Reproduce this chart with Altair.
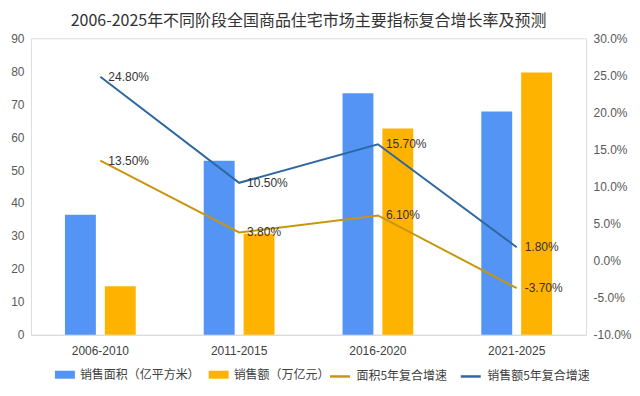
import altair as alt
import pandas as pd

cats = ["2006-2010", "2011-2015", "2016-2020", "2021-2025"]
area = [36.4, 52.8, 73.3, 67.8]
amount = [14.7, 30.7, 62.6, 79.6]
area_growth = [13.5, 3.8, 6.1, -3.7]
amount_growth = [24.8, 10.5, 15.7, 1.8]

bar_names = ["销售面积（亿平方米）", "销售额（万亿元）"]
line_names = ["面积5年复合增速", "销售额5年复合增速"]

bar_rows = []
for i, c in enumerate(cats):
    bar_rows.append({"cat": c, "series": bar_names[0], "value": area[i]})
    bar_rows.append({"cat": c, "series": bar_names[1], "value": amount[i]})
bars_df = pd.DataFrame(bar_rows)

line_rows = []
for i, c in enumerate(cats):
    line_rows.append({"cat": c, "series": line_names[0], "pct": area_growth[i]})
    line_rows.append({"cat": c, "series": line_names[1], "pct": amount_growth[i]})
lines_df = pd.DataFrame(line_rows)

CJK = "Noto Sans CJK SC"
NUM = "Liberation Sans"

x_enc = alt.X(
    "cat:N", sort=cats, title=None,
    scale=alt.Scale(paddingInner=0.49, paddingOuter=0.245),
    axis=alt.Axis(labelAngle=0, ticks=False, domainColor="#d9d9d9", labelColor="#404040",
                  labelFontSize=12, labelFont=NUM, labelPadding=11),
)

bars = alt.Chart(bars_df).mark_bar().encode(
    x=x_enc,
    xOffset=alt.XOffset("series:N", sort=bar_names, scale=alt.Scale(paddingInner=0.225)),
    y=alt.Y("value:Q", title=None,
            scale=alt.Scale(domain=[0, 90], nice=False),
            axis=alt.Axis(values=list(range(0, 91, 10)), grid=False, domain=False, ticks=False,
                          labelColor="#595959", labelFontSize=12, labelFont=NUM, labelPadding=7)),
    color=alt.Color("series:N", sort=bar_names,
                    scale=alt.Scale(domain=bar_names, range=["#5394F5", "#FFB301"]),
                    legend=alt.Legend(title=None, orient="none", direction="horizontal",
                                      legendX=24, legendY=327,
                                      symbolType="M-1,-0.4H1V0.4H-1Z", symbolSize=400,
                                      labelFontSize=12, labelColor="#404040", labelFont=CJK,
                                      symbolStrokeWidth=0, columnPadding=8, labelOffset=5)),
)

y_right = alt.Y("pct:Q", title=None,
                scale=alt.Scale(domain=[-10, 30], nice=False),
                axis=alt.Axis(orient="right", values=list(range(-10, 31, 5)), grid=False, domain=False,
                              ticks=False, labelColor="#595959", labelFontSize=12, labelFont=NUM,
                              labelPadding=7,
                              labelExpr="replace(format(datum.value, '.1f'), '\u2212', '-') + '%'"))

lines = alt.Chart(lines_df).mark_line(strokeWidth=2).encode(
    x=x_enc,
    y=y_right,
    stroke=alt.Stroke("series:N", sort=line_names,
                      scale=alt.Scale(domain=line_names, range=["#C8960E", "#2E68A2"]),
                      legend=alt.Legend(title=None, orient="none", direction="horizontal",
                                        legendX=298, legendY=327,
                                        symbolType="stroke", symbolSize=400, symbolStrokeWidth=2.5,
                                        labelFontSize=12, labelColor="#404040", labelFont=CJK,
                                        columnPadding=8, labelOffset=5)),
)

texts = alt.Chart(lines_df).transform_calculate(
    label="replace(format(datum.pct, '.2f'), '\u2212', '-') + '%'"
).mark_text(align="left", baseline="middle", dx=8, fontSize=12, font=NUM, color="#333333").encode(
    x=x_enc,
    y=y_right,
    text="label:N",
)

right = alt.layer(lines, texts)

chart = alt.layer(bars, right).resolve_scale(y="independent").properties(
    width=556, height=297,
    title=alt.TitleParams("2006-2025年不同阶段全国商品住宅市场主要指标复合增长率及预测",
                          fontSize=16, fontWeight="normal", color="#333333", font=CJK, offset=3),
    padding={"left": 2, "right": 0, "top": 5, "bottom": 0},
).configure_view(stroke=None).configure(font=CJK)

chart.save("out.html", embed_options={"renderer": "svg", "actions": False})
